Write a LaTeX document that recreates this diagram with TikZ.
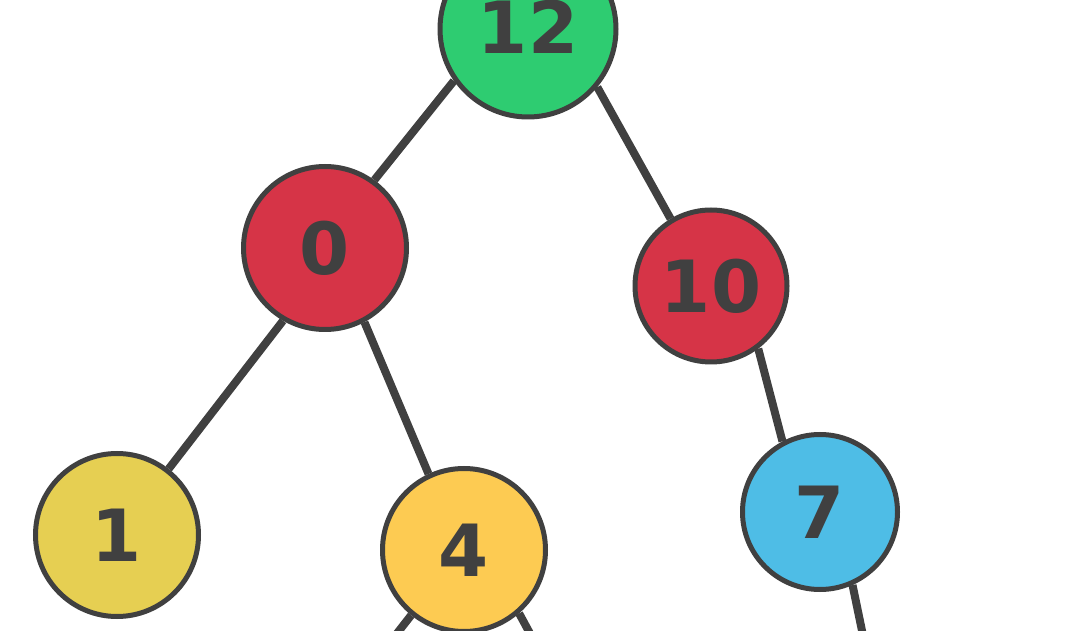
\documentclass[tikz,border=0pt]{standalone}
\usepackage{fontspec}
\newfontfamily\numfont{DejaVu Sans}
\definecolor{dark}{HTML}{404040}
\definecolor{cgreen}{HTML}{2ECC71}
\definecolor{cred}{HTML}{D63447}
\definecolor{cyellowA}{HTML}{E6CF52}
\definecolor{cyellowB}{HTML}{FDCB52}
\definecolor{cblue}{HTML}{4EBDE6}
\pgfdeclarelayer{bg}
\pgfsetlayers{bg,main}
\tikzset{
  treenode/.style={circle, draw=dark, line width=5pt, inner sep=0pt, text=dark,
    font=\numfont\bfseries\fontsize{72}{72}\selectfont},
  edge/.style={draw=dark, line width=8pt},
}
\begin{document}
\begin{tikzpicture}[x=1pt,y=1pt]
\useasboundingbox (0,0) rectangle (1080,630);
\clip (0,0) rectangle (1080,630);
\node[treenode, fill=cgreen, minimum size=176pt] (n12) at (528,601) {\raisebox{4pt}{12}};
\node[treenode, fill=cred, minimum size=163pt] (n0) at (325,382) {0};
\node[treenode, fill=cred, minimum size=152pt] (n10) at (711,344) {10};
\node[treenode, fill=cyellowA, minimum size=163pt] (n1) at (117,95) {1};
\node[treenode, fill=cyellowB, minimum size=163pt] (n4) at (464,80) {4};
\node[treenode, fill=cblue, minimum size=155pt] (n7) at (820,118) {7};
\coordinate (e4l) at (384,-20);
\coordinate (e4r) at (539,-20);
\coordinate (e7d) at (866,-20);
\begin{pgfonlayer}{bg}
\fill[white] (0,0) rectangle (1080,630);
\draw[edge] (n12.215) -- (n0.54);
\draw[edge] (n12.320) -- (n10.121);
\draw[edge] (n0.240) -- (n1.52);
\draw[edge] (n0.298) -- (n4.115);
\draw[edge] (n10.307) -- (n7.118);
\draw[edge] (n7.294) -- (e7d);
\draw[edge] (n4.231) -- (e4l);
\draw[edge] (n4.311) -- (e4r);
\end{pgfonlayer}
\end{tikzpicture}
\end{document}
